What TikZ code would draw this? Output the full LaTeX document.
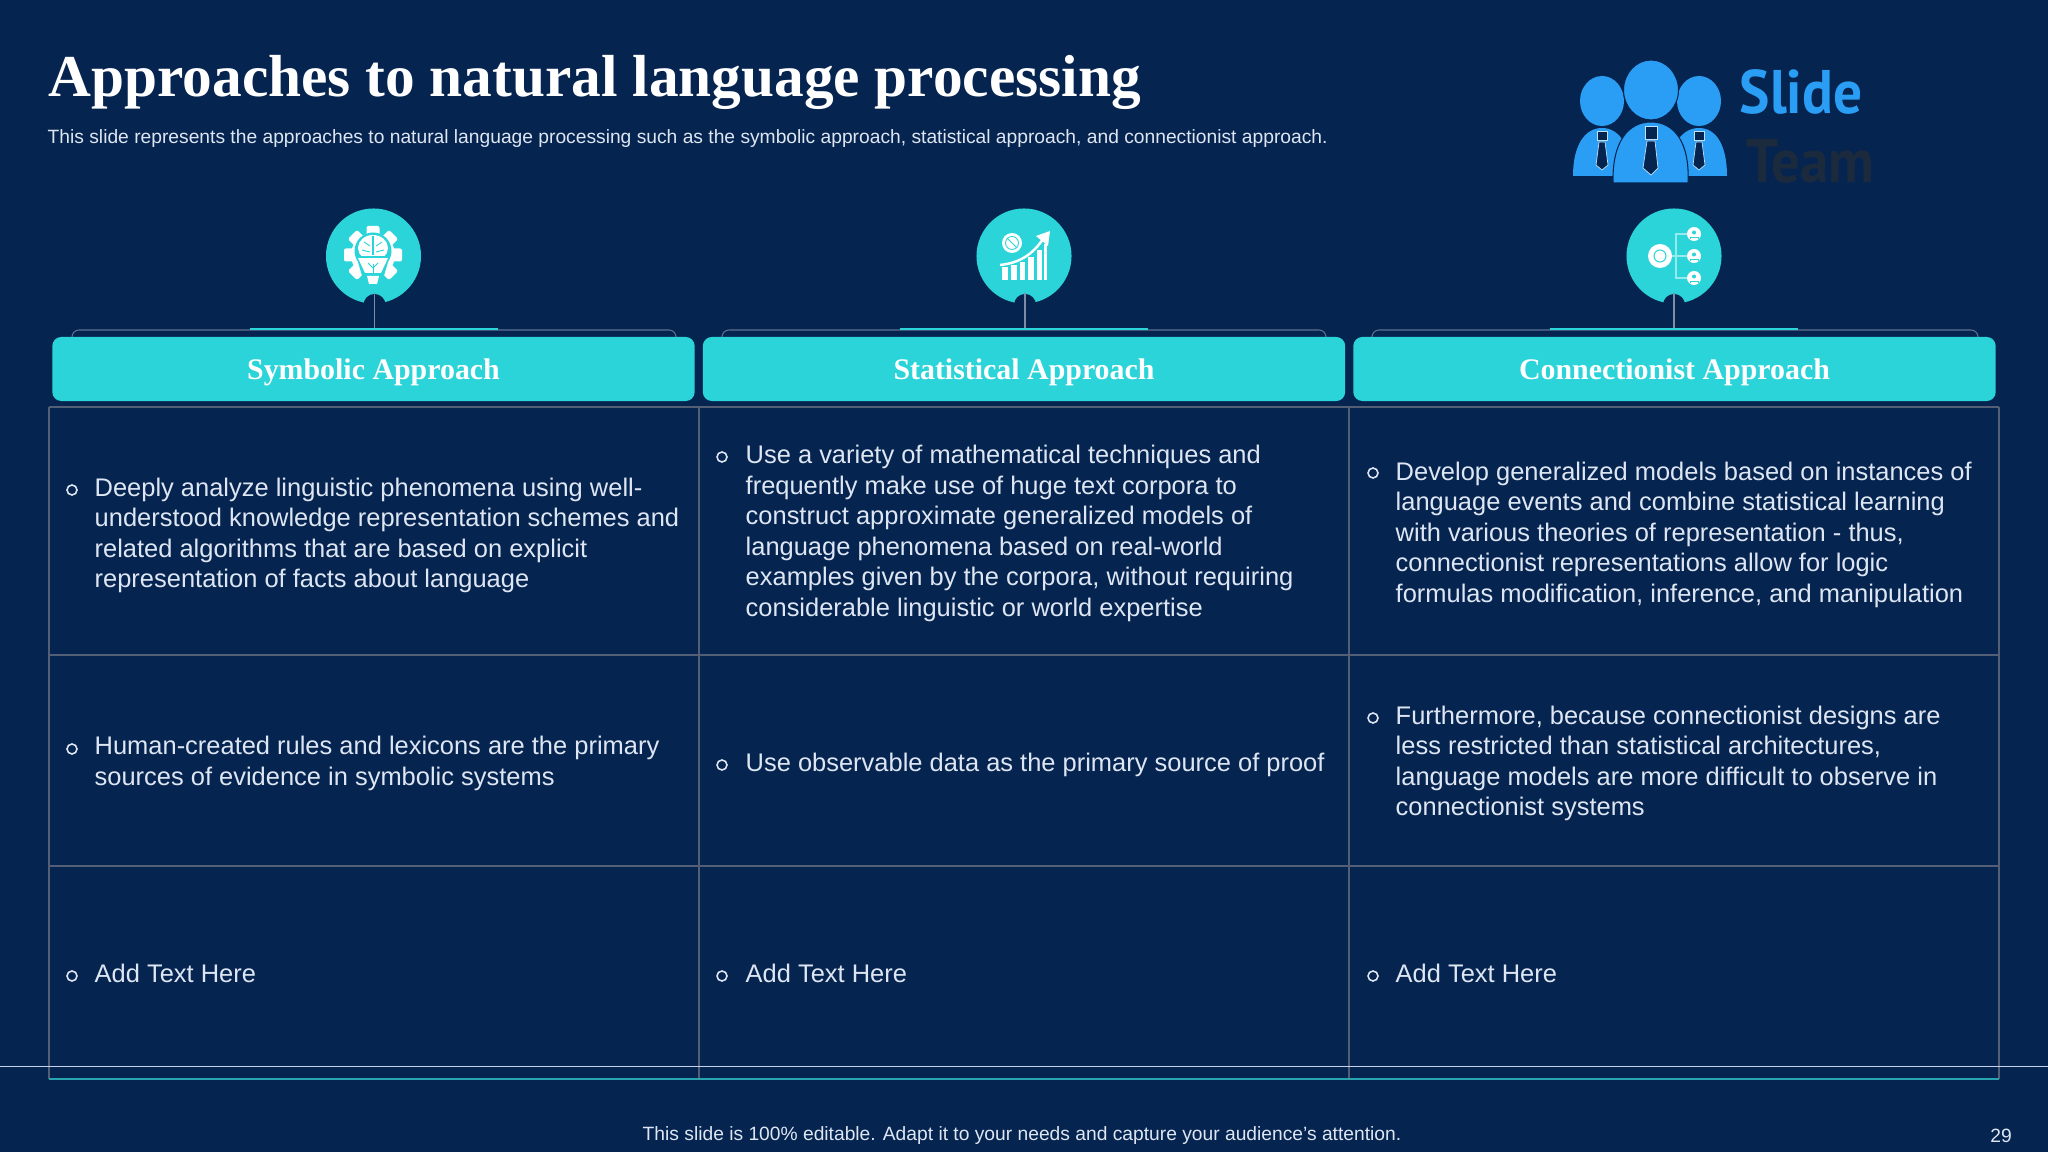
\documentclass[tikz,border=0pt]{standalone}
\usepackage{fontspec}
\setmainfont{Liberation Sans}
\newfontfamily\titlefont{Liberation Serif}
\newfontfamily\logofont{PT Sans}
\definecolor{slidebg}{HTML}{062450}
\definecolor{headcyan}{HTML}{2AD4D9}
\definecolor{gridgrey}{HTML}{525F74}
\definecolor{bracketgrey}{HTML}{5E7090}
\definecolor{logoblue}{HTML}{2A9DF4}
\definecolor{logodark}{HTML}{1C2A3E}
\definecolor{foottext}{HTML}{DDE6F2}
\definecolor{footline}{HTML}{C4D4F0}
\definecolor{baseteal}{HTML}{2AA5B0}
\tikzset{
	headbox/.style={draw=none, fill=headcyan, rounded corners=0.09cm, minimum width=6.42cm, minimum height=0.64cm, inner sep=0pt, text=white, text height=5.8pt, text depth=0pt, font=\titlefont\bfseries\fontsize{8.5}{10}\selectfont},
	pincircle/.style={circle, fill=headcyan, minimum size=0.95cm, inner sep=0pt},
	pinnotch/.style={circle, fill=slidebg, minimum size=0.22cm, inner sep=0pt},
	celltext/.style={anchor=west, align=left, inner sep=0pt, text=foottext, font=\fontsize{7.24}{8.67}\selectfont},
	bulletdot/.style={circle, draw=foottext, line width=0.45pt, minimum size=0.1cm, inner sep=0pt},
	gridline/.style={draw=gridgrey, line width=0.4pt},
	bracketline/.style={draw=bracketgrey, line width=0.3pt, rounded corners=0.07cm},
	barline/.style={draw=headcyan, line width=0.8pt},
	stemline/.style={draw=bracketgrey!80!white, line width=0.4pt},
	smalltext/.style={inner sep=0pt, text=foottext, font=\fontsize{5.47}{7}\selectfont}
}
\begin{document}
\begin{tikzpicture}[x=0.01cm, y=-0.01cm]
	\useasboundingbox[fill=slidebg] (0,0) rectangle (2048,1152);

	% Define coordinates
	\coordinate (T0) at (49,407);
	\coordinate (T1) at (699,407);
	\coordinate (T2) at (1349,407);
	\coordinate (T3) at (1999,407);
	\coordinate (B0) at (49,1079);
	\coordinate (B1) at (699,1079);
	\coordinate (B2) at (1349,1079);
	\coordinate (B3) at (1999,1079);
	\coordinate (BarA) at (374.5,329);
	\coordinate (BarB) at (1025,329);
	\coordinate (BarC) at (1674,329);

	% Title
	\node[anchor=base west, inner sep=0pt, text=white, font=\titlefont\bfseries\fontsize{16.87}{19}\selectfont] (title) at (48,97) {Approaches to natural language processing};
	\node[anchor=base west, inner sep=0pt, text=foottext, font=\fontsize{5.47}{7}\selectfont] (subtitle) at (47,143.5) {This slide represents the approaches to natural language processing such as the symbolic approach, statistical approach, and connectionist approach.};

	% Logo people
	\fill[logoblue] (1573,176) .. controls (1573,145) and (1585,128) .. (1602,128) .. controls (1619,128) and (1631,145) .. (1631,176) -- cycle;
	\fill[logoblue] (1669,176) .. controls (1669,145) and (1682,128) .. (1699,128) .. controls (1716,128) and (1727,145) .. (1727,176) -- cycle;
	\filldraw[fill=logoblue, draw=slidebg, line width=0.3pt] (1613,183) .. controls (1612,142) and (1628,122) .. (1651,122) .. controls (1674,122) and (1690,142) .. (1688,183) -- cycle;
	\fill[logoblue] (1602,101) ellipse (22 and 25);
	\fill[logoblue] (1699,101) ellipse (22 and 25);
	\filldraw[fill=logoblue, draw=slidebg, line width=0.3pt] (1651,90) ellipse (27.5 and 30);

	% Logo ties
	\filldraw[fill=slidebg, draw=white!70!logoblue, line width=0.2pt] (1597,131) rectangle (1607,140);
	\filldraw[fill=slidebg, draw=white!70!logoblue, line width=0.2pt] (1599,142) -- (1605,142) -- (1608,165) -- (1602,170) -- (1596,165) -- cycle;
	\filldraw[fill=slidebg, draw=white!70!logoblue, line width=0.2pt] (1694,131) rectangle (1704,140);
	\filldraw[fill=slidebg, draw=white!70!logoblue, line width=0.2pt] (1696,142) -- (1702,142) -- (1705,165) -- (1699,170) -- (1693,165) -- cycle;
	\filldraw[fill=slidebg, draw=white!70!logoblue, line width=0.2pt] (1645,126) rectangle (1657,139);
	\filldraw[fill=slidebg, draw=white!70!logoblue, line width=0.2pt] (1647,141) -- (1655,141) -- (1658,168) -- (1651,175) -- (1643,168) -- cycle;

	% Logo text
	\node[anchor=base west, inner sep=0pt, text=logoblue, xscale=0.93, font=\logofont\bfseries\fontsize{17.5}{20}\selectfont] (logoslide) at (1739,114) {Slide};
	\node[anchor=base west, inner sep=0pt, text=logodark, xscale=0.92, font=\logofont\bfseries\fontsize{17.5}{20}\selectfont] (logoteam) at (1746,183) {Team};

	% Draw pins
	\node[pincircle] (pinA) at (373.5,256) {};
	\node[pincircle] (pinB) at (1024,256) {};
	\node[pincircle] (pinC) at (1674,256) {};
	\node[pinnotch] (notchA) at (374.5,305) {};
	\node[pinnotch] (notchB) at (1025,305) {};
	\node[pinnotch] (notchC) at (1674,305) {};

	% Draw stems and brackets
	\draw[stemline] (notchA.north) -- (BarA);
	\draw[stemline] (notchB.north) -- (BarB);
	\draw[stemline] (notchC.north) -- (BarC);
	\draw[bracketline] (72,338) -- (72,330) -- (676,330) -- (676,338);
	\draw[bracketline] (722,338) -- (722,330) -- (1326,330) -- (1326,338);
	\draw[bracketline] (1372,338) -- (1372,330) -- (1978,330) -- (1978,338);
	\draw[barline] (250,329) -- (498,329);
	\draw[barline] (900,329) -- (1148,329);
	\draw[barline] (1550,329) -- (1798,329);

	% Header boxes
	\node[headbox] (headA) at (373.5,369) {Symbolic Approach};
	\node[headbox] (headB) at (1024,369) {Statistical Approach};
	\node[headbox] (headC) at (1674.5,369) {Connectionist Approach};

	% Draw grid
	\draw[gridline] (T0) -- (T3);
	\draw[gridline] (49,655) -- (1999,655);
	\draw[gridline] (49,866) -- (1999,866);
	\draw[gridline] (T0) -- (B0);
	\draw[gridline] (T1) -- (B1);
	\draw[gridline] (T2) -- (B2);
	\draw[gridline] (T3) -- (B3);
	\draw[draw=baseteal, line width=0.7pt] (B0) -- (B3);
	\draw[draw=footline, line width=0.35pt] (0,1066.5) -- (2048,1066.5);

	% Icon gear
	\fill[white] (373,255) circle (22);
	\fill[white, rounded corners=0.02cm] (366.5,226) rectangle (379.5,242);
	\fill[white, rounded corners=0.02cm, rotate around={45:(373,255)}] (366.5,226) rectangle (379.5,242);
	\fill[white, rounded corners=0.02cm, rotate around={-45:(373,255)}] (366.5,226) rectangle (379.5,242);
	\fill[white, rounded corners=0.02cm, rotate around={90:(373,255)}] (366.5,226) rectangle (379.5,242);
	\fill[white, rounded corners=0.02cm, rotate around={-90:(373,255)}] (366.5,226) rectangle (379.5,242);
	\fill[white, rounded corners=0.02cm, rotate around={135:(373,255)}] (366.5,226) rectangle (379.5,242);
	\fill[white, rounded corners=0.02cm, rotate around={-135:(373,255)}] (366.5,226) rectangle (379.5,242);

	% Icon bulb
	\fill[headcyan] (373,251) circle (18.5);
	\fill[headcyan] (358,262) -- (388,262) -- (383,279) -- (363,279) -- cycle;
	\fill[white] (373,248) ellipse (15 and 13);
	\fill[white] (358,258) -- (388,258) -- (381,273) -- (365,273) -- cycle;
	\fill[white] (367,276) -- (379,276) -- (377,284) -- (369,284) -- cycle;
	\draw[headcyan, line width=0.3pt] (373,236) -- (373,255);
	\draw[headcyan, line width=0.25pt] (364,242) -- (370,246);
	\draw[headcyan, line width=0.25pt] (382,242) -- (376,246);
	\draw[headcyan, line width=0.25pt] (362,250) -- (370,252);
	\draw[headcyan, line width=0.25pt] (384,250) -- (376,252);
	\draw[headcyan, line width=0.25pt] (373,264) -- (373,273);
	\draw[headcyan, line width=0.25pt] (368,263) -- (373,268) -- (378,263);
	\draw[headcyan, line width=0.3pt] (358,257) -- (388,257);

	% Icon chart
	\fill[white] (1012,243) circle (10);
	\draw[headcyan, line width=0.25pt] (1012,243) circle (6.5);
	\draw[headcyan, line width=0.25pt] (1007,238) -- (1017,248);
	\fill[white] (1002,267) rectangle (1008,280);
	\fill[white] (1011,265) rectangle (1017,280);
	\fill[white] (1020,262) rectangle (1025,280);
	\fill[white] (1028,257) rectangle (1034,280);
	\fill[white] (1037,250) rectangle (1042,280);
	\fill[white] (1044,244) rectangle (1047,280);
	\draw[white, line width=0.7pt] (1000,265) .. controls (1020,263) and (1033,254) .. (1043,239);
	\fill[white] (1050,231) -- (1048,246) -- (1036,236) -- cycle;

	% Icon network
	\fill[white] (1660,256) circle (12);
	\draw[headcyan, line width=0.3pt] (1660,256) circle (6);
	\fill[white] (1694,234) circle (7);
	\fill[white] (1694,256) circle (7);
	\fill[white] (1694,278) circle (7);
	\fill[headcyan] (1694,232.5) circle (2);
	\fill[headcyan] (1694,254.5) circle (2);
	\fill[headcyan] (1694,276.5) circle (2);
	\draw[headcyan, line width=0.25pt] (1690,239) -- (1690,237) -- (1698,237) -- (1698,239);
	\draw[headcyan, line width=0.25pt] (1690,261) -- (1690,259) -- (1698,259) -- (1698,261);
	\draw[headcyan, line width=0.25pt] (1690,283) -- (1690,281) -- (1698,281) -- (1698,283);
	\draw[white!50!headcyan, line width=0.3pt] (1672,256) -- (1687,256);
	\draw[white!50!headcyan, line width=0.3pt] (1687,234) -- (1676,234) -- (1676,278) -- (1687,278);

	% First column
	\node[celltext] (textA) at (94,535.5) {Deeply analyze linguistic phenomena using well-\\understood knowledge representation schemes and\\related algorithms that are based on explicit\\representation of facts about language};
	\node[celltext] (textD) at (94,763.5) {Human-created rules and lexicons are the primary\\sources of evidence in symbolic systems};
	\node[celltext] (textG) at (94,973) {Add Text Here};
	\node[bulletdot] (dotA) at (72,490) {};
	\node[bulletdot] (dotD) at (72,749) {};
	\node[bulletdot] (dotG) at (72,976) {};

	% Second column
	\node[celltext] (textB) at (745,533.5) {Use a variety of mathematical techniques and\\frequently make use of huge text corpora to\\construct approximate generalized models of\\language phenomena based on real-world\\examples given by the corpora, without requiring\\considerable linguistic or world expertise};
	\node[celltext] (textE) at (745,765) {Use observable data as the primary source of proof};
	\node[celltext] (textH) at (745,973) {Add Text Here};
	\node[bulletdot] (dotB) at (722,457) {};
	\node[bulletdot] (dotE) at (722,765) {};
	\node[bulletdot] (dotH) at (722,976) {};

	% Third column
	\node[celltext] (textC) at (1395,534.5) {Develop generalized models based on instances of\\language events and combine statistical learning\\with various theories of representation - thus,\\connectionist representations allow for logic\\formulas modification, inference, and manipulation};
	\node[celltext] (textF) at (1395,763.5) {Furthermore, because connectionist designs are\\less restricted than statistical architectures,\\language models are more difficult to observe in\\connectionist systems};
	\node[celltext] (textI) at (1395,973) {Add Text Here};
	\node[bulletdot] (dotC) at (1373,473) {};
	\node[bulletdot] (dotF) at (1373,718) {};
	\node[bulletdot] (dotI) at (1373,976) {};

	% Footer
	\node[smalltext] (footer) at (1022,1135.5) {This slide is 100\% editable. Adapt it to your needs and capture your audience's attention.};
	\node[smalltext] (pagenum) at (2001,1135.5) {29};
\end{tikzpicture}
\end{document}
